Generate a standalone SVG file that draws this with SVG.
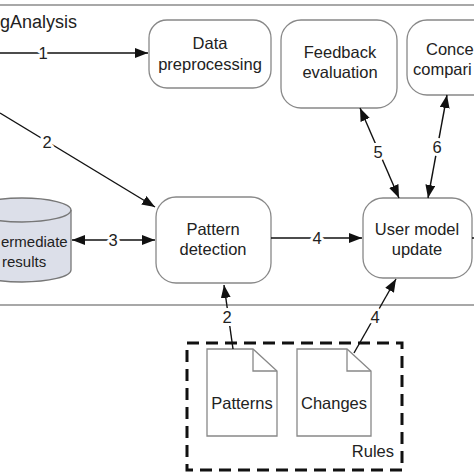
<svg xmlns="http://www.w3.org/2000/svg" width="474" height="474" viewBox="0 0 474 474">
<defs>
<marker id="ah" markerUnits="userSpaceOnUse" markerWidth="13" markerHeight="10" refX="13" refY="5" orient="auto-start-reverse">
<path d="M0,0 L13,5 L0,10 Z" fill="#111"/>
</marker>
<style>
text{font-family:"Liberation Sans",Arial,sans-serif;fill:#222;font-size:16.5px}
.box{fill:#fff;stroke:#888;stroke-width:1.3}
.frame{stroke:#a8a8a8;stroke-width:2;fill:none}
.c{stroke:#111;stroke-width:1.4;fill:none}
.lbl{text-anchor:middle;stroke:#fff;stroke-width:6;paint-order:stroke;stroke-linejoin:round}
.mid{text-anchor:middle}
</style>
</defs>
<rect width="474" height="474" fill="#fff"/>
<g id="frame">
<line class="frame" x1="0" y1="5" x2="474" y2="5"/>
<line class="frame" x1="0" y1="305" x2="474" y2="305"/>
<text x="0" y="28" style="font-size:18px">gAnalysis</text>
</g>
<g id="data-preprocessing">
<rect class="box" x="149" y="20" width="122" height="68" rx="18"/>
<text class="mid" x="210" y="49">Data</text>
<text class="mid" x="210" y="70">preprocessing</text>
</g>
<g id="feedback-evaluation">
<rect class="box" x="281" y="20" width="116" height="88" rx="20"/>
<text class="mid" x="340" y="58">Feedback</text>
<text class="mid" x="340" y="78">evaluation</text>
</g>
<g id="concept-comparison">
<rect class="box" x="407" y="20" width="100" height="75" rx="20"/>
<text x="426" y="55">Conce</text>
<text x="413" y="75">compari</text>
</g>
<g id="pattern-detection">
<rect class="box" x="156" y="197" width="115" height="86" rx="20"/>
<text class="mid" x="213" y="235">Pattern</text>
<text class="mid" x="213" y="255">detection</text>
</g>
<g id="user-model-update">
<rect class="box" x="363" y="198" width="109" height="80" rx="20"/>
<text class="mid" x="417" y="235">User model</text>
<text class="mid" x="417" y="255">update</text>
</g>
<g id="intermediate-results">
<path d="M-27,210 A49,12 0 0 1 71,210 L71,270 A49,12 0 0 1 -27,270 Z" fill="#dcdfe9" stroke="#777" stroke-width="1.3"/>
<path d="M-27,210 A49,12 0 0 0 71,210" fill="none" stroke="#777" stroke-width="1.3"/>
<text x="1" y="247" style="font-size:15px">ermediate</text>
<text x="2" y="267" style="font-size:15px">results</text>
</g>
<g id="rules">
<rect x="187" y="343" width="215" height="127" fill="none" stroke="#111" stroke-width="3" stroke-dasharray="12,7"/>
<text x="394" y="457" text-anchor="end">Rules</text>
</g>
<g id="patterns">
<path class="box" d="M207,349 L253,349 L277,371 L277,436 L207,436 Z"/>
<path d="M253,349 L253,371 L277,371" fill="none" stroke="#888" stroke-width="1.3"/>
<text class="mid" x="242" y="409">Patterns</text>
</g>
<g id="changes">
<path class="box" d="M297,349 L347,349 L371,371 L371,436 L297,436 Z"/>
<path d="M347,349 L347,371 L371,371" fill="none" stroke="#888" stroke-width="1.3"/>
<text class="mid" x="334" y="409">Changes</text>
</g>
<g id="connectors">
<path class="c" d="M0,53 L148,53" marker-end="url(#ah)"/>
<text class="lbl" x="43" y="59">1</text>
<path class="c" d="M0,113 L155,207" marker-end="url(#ah)"/>
<text class="lbl" x="47" y="148">2</text>
<path class="c" d="M72,240 L155,240" marker-start="url(#ah)" marker-end="url(#ah)"/>
<text class="lbl" x="113" y="246">3</text>
<path class="c" d="M271,238 L362,238" marker-end="url(#ah)"/>
<text class="lbl" x="317" y="244">4</text>
<path class="c" d="M360,108 L399,198" marker-start="url(#ah)" marker-end="url(#ah)"/>
<text class="lbl" x="378" y="158">5</text>
<path class="c" d="M447,95 L428,198" marker-start="url(#ah)" marker-end="url(#ah)"/>
<text class="lbl" x="437" y="153">6</text>
<path class="c" d="M472,238 L474,238"/>
<path class="c" d="M233,349 L224,285" marker-end="url(#ah)"/>
<text class="lbl" x="227" y="323">2</text>
<path class="c" d="M354,353 L396,279" marker-end="url(#ah)"/>
<text class="lbl" x="375" y="323">4</text>
</g>
</svg>
